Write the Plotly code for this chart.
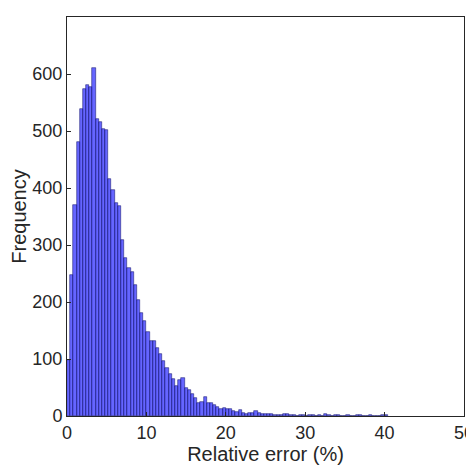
import numpy as np
import plotly.graph_objects as go

bin_width = 0.4
counts = [99, 248, 370, 480, 538, 573, 581, 577, 610, 521, 516, 503, 501, 416, 397, 374,
          369, 309, 277, 259, 253, 230, 203, 180, 167, 147, 132, 132, 119, 108, 97, 84,
          73, 65, 52, 64,
          66, 50, 45, 39, 31, 23, 24, 34, 23, 22, 19, 15, 13, 14, 13, 12, 9, 7, 11, 6,
          4, 6, 5, 9, 5, 4, 3, 4, 3, 2, 1, 2, 4, 3, 1,
          1, 0, 1, 1, 0, 2, 1, 0, 1, 0, 3, 1, 0, 2, 1, 0, 0, 1, 0, 0, 1, 1, 0, 0, 1,
          0, 0, 0, 1, 1]
x_ticks = [0, 10, 20, 30, 40, 50]
y_ticks = [0, 100, 200, 300, 400, 500, 600, 700]

centers = (np.arange(len(counts)) + 0.5) * bin_width

fig = go.Figure()
fig.add_trace(go.Bar(x=centers, y=counts, width=bin_width,
                     marker=dict(color='rgba(0,0,255,0.6)',
                                 line=dict(color='rgba(20,20,110,0.9)', width=0.6))))
axis = dict(showline=True, linecolor='#262626', linewidth=1, mirror=True,
            ticks='inside', ticklen=4, tickcolor='#262626', showgrid=False,
            zeroline=False, tickfont=dict(size=18, color='#262626'))
fig.update_layout(
    width=474, height=474, plot_bgcolor='white', paper_bgcolor='white',
    margin=dict(l=58, r=12, t=8, b=66), showlegend=False, bargap=0,
    font=dict(family='Liberation Sans, Arial', color='#262626'),
    xaxis=dict(axis, range=[0, 50], tickvals=x_ticks,
               title=dict(text='Relative error (%)', font=dict(size=20), standoff=4)),
    yaxis=dict(axis, range=[0, 700], tickvals=y_ticks,
               title=dict(text='Frequency', font=dict(size=20), standoff=2)),
)
fig.write_html("out.html")
